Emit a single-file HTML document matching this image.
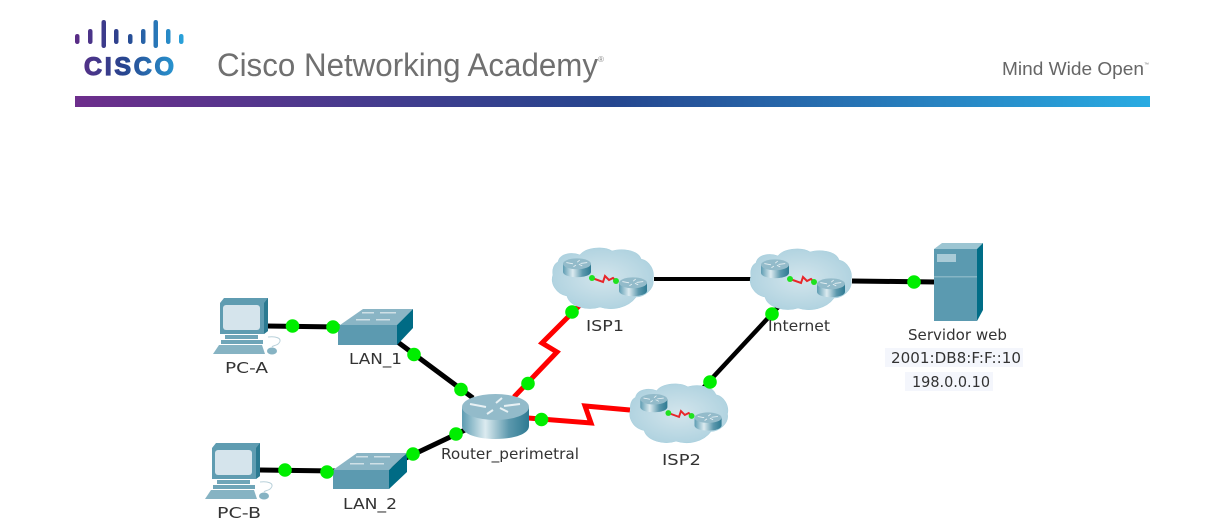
<!DOCTYPE html>
<html><head><meta charset="utf-8"><style>
html,body{margin:0;padding:0;background:#fff}
svg{display:block;filter:blur(.35px)}
.l{font-family:"DejaVu Sans","Liberation Sans",sans-serif;font-size:15px;fill:#333}
</style></head><body>
<svg width="1224" height="526" viewBox="0 0 1224 526" xmlns="http://www.w3.org/2000/svg">
<defs>
<linearGradient id="bar" x1="0" x2="1" y1="0" y2="0"><stop offset="0" stop-color="#6d2e8c"/><stop offset=".5" stop-color="#25468f"/><stop offset="1" stop-color="#29abe2"/></linearGradient>
<linearGradient id="logo" gradientUnits="userSpaceOnUse" x1="75" x2="185" y1="0" y2="0"><stop offset="0" stop-color="#5b2c86"/><stop offset=".45" stop-color="#27458f"/><stop offset="1" stop-color="#29a5dd"/></linearGradient>
<linearGradient id="rb" x1="0" x2="1" y1="0" y2="0"><stop offset="0" stop-color="#5d9cb2"/><stop offset=".35" stop-color="#dcebf0"/><stop offset=".7" stop-color="#5c98ad"/><stop offset="1" stop-color="#2e7a92"/></linearGradient>
<radialGradient id="cl" cx=".5" cy=".5" r=".6"><stop offset="0" stop-color="#d3e5ec"/><stop offset="1" stop-color="#abd0de"/></radialGradient>
<symbol id="router" viewBox="0 0 67 46" overflow="visible">
<path d="M0 13V32C0 40 15 45 33.500 45S67 40 67 32V13Z" fill="url(#rb)"/>
<ellipse cx="33.500" cy="13" rx="33.500" ry="13" fill="#93bbca"/>
<g stroke="#e8f1f4" stroke-width="2" fill="none"><path d="M8 10L24 13M58 10L42 12M25 20L31 16M40 4L34 9M46 18L38 14"/></g>
</symbol>
<symbol id="cloud" viewBox="0 0 102 63" overflow="visible">
<path d="M6 15C8 6 20 5 28 8C34 0 52-1 60 4C70 1 86 3 89 12C98 14 103 24 101 32C103 42 92 50 84 50C76 61 60 64 48 60C36 64 18 60 15 49C4 47-2 36 1 28C0 22 2 17 6 15Z" fill="url(#cl)" stroke="#a9d0de" stroke-width=".6"/>
<use href="#router" x="11" y="11" width="28" height="20"/>
<use href="#router" x="67" y="30" width="28" height="20"/>
<path d="M40 31L51 35L53 29L57 33L61 31L64 34" fill="none" stroke="#e8262a" stroke-width="2"/>
<circle cx="40" cy="31" r="3" fill="#1fe21f"/><circle cx="64" cy="34" r="3" fill="#1fe21f"/>
</symbol>
<symbol id="pc" viewBox="0 0 56 57" overflow="visible">
<path d="M7 5L11 0H55V33L51 36H7Z" fill="#5f9cb1"/><path d="M51 5L55 0V33L51 36Z" fill="#2b7a91"/>
<rect x="7" y="5" width="44" height="31" rx="2" fill="#5f9cb1"/>
<rect x="10" y="7" width="37" height="25" rx="3" fill="#d5e4ec"/>
<path d="M12 37H45V41H12Z" fill="#6fa5b8"/><path d="M8 42H50V46H8Z" fill="#6fa5b8"/>
<path d="M6 47H49L52 56H0Z" fill="#86b3c3"/>
<path d="M55 39C62 38 70 40 66 45C64 48 60 47 59 49" fill="none" stroke="#b9d1da" stroke-width="1"/>
<ellipse cx="59" cy="53" rx="5" ry="3.500" fill="#86b3c3"/>
</symbol>
</defs>

<!-- header -->
<g fill="url(#logo)">
<rect x="75" y="34" width="4.500" height="10" rx="2.200"/><rect x="88" y="29" width="4.500" height="15" rx="2.200"/>
<rect x="101.500" y="20" width="4.500" height="28" rx="2.200"/><rect x="114" y="29" width="4.500" height="15" rx="2.200"/>
<rect x="128" y="34" width="4.500" height="10" rx="2.200"/><rect x="141" y="29" width="4.500" height="15" rx="2.200"/>
<rect x="153.500" y="20" width="4.500" height="28" rx="2.200"/><rect x="166" y="29" width="4.500" height="15" rx="2.200"/>
<rect x="179" y="34" width="4.500" height="10" rx="2.200"/>
</g>
<text x="84" y="75" font-family="Liberation Sans" font-weight="700" font-size="25" fill="url(#logo)" stroke="url(#logo)" stroke-width="1.200" textLength="90" lengthAdjust="spacing">CISCO</text>
<text x="217" y="76" font-family="Liberation Sans" font-size="32" fill="#707070" textLength="381" lengthAdjust="spacingAndGlyphs">Cisco Networking Academy</text>
<text x="598" y="62" font-family="Liberation Sans" font-size="8" fill="#888">®</text>
<text x="1002" y="75" font-family="Liberation Sans" font-size="18.500" fill="#666" textLength="142" lengthAdjust="spacingAndGlyphs">Mind Wide Open</text>
<text x="1144" y="66" font-family="Liberation Sans" font-size="5" fill="#777">™</text>
<rect x="75" y="96" width="1075" height="11" fill="url(#bar)"/>

<!-- black links -->
<g fill="none" stroke="#000" stroke-width="5">
<path d="M266 326L340 327"/><path d="M395 340L473 398"/>
<path d="M260 470L335 471"/><path d="M389 466L465 430"/>
<path d="M654 279H752" stroke-width="4"/><path d="M852 281L936 282"/>
<path d="M781 304L703 388" stroke-width="4.500"/>
</g>
<!-- red links -->
<g fill="none" stroke="#f00" stroke-width="5">
<path d="M514 397L557 352L542 343L583 302"/>
<path d="M528 418L591 423L585 406L630 410"/>
</g>

<!-- devices -->
<use href="#pc" x="213" y="298" width="56" height="57"/>
<use href="#pc" x="205" y="443" width="56" height="57"/>

<path d="M340 325L363 309H413L397 325Z" fill="#8ab5c5"/><path d="M338 325H397V345H338Z" fill="#5c9ab0"/><path d="M397 325L413 309V328L397 345Z" fill="#006b85"/>
<g fill="#cfe0e6"><rect x="362" y="312" width="12" height="1.500"/><rect x="380" y="312" width="16" height="1.500"/><rect x="356" y="319" width="14" height="1.500"/><rect x="376" y="319" width="14" height="1.500"/></g>

<path d="M333 470L357 453H407L389 470Z" fill="#8ab5c5"/><path d="M333 470H389V489H333Z" fill="#5c9ab0"/><path d="M389 470L407 453V472L389 489Z" fill="#006b85"/>
<g fill="#cfe0e6"><rect x="356" y="456" width="12" height="1.500"/><rect x="374" y="456" width="16" height="1.500"/><rect x="350" y="463" width="14" height="1.500"/><rect x="370" y="463" width="14" height="1.500"/></g>

<use href="#router" x="462" y="394" width="67" height="46"/>
<use href="#cloud" x="552" y="247" width="102" height="63"/>
<use href="#cloud" x="750" y="248" width="102" height="63"/>
<use href="#cloud" x="628" y="383" width="102" height="61"/>

<!-- server -->
<path d="M934 249L942 243H983L977 249Z" fill="#9cc5d2"/><rect x="934" y="249" width="43" height="72" fill="#5b9ab0"/><path d="M977 249L983 243V310L977 321Z" fill="#006d87"/>
<rect x="937" y="254" width="19" height="8" fill="#a9cbd7"/><rect x="934" y="276" width="43" height="1.500" fill="#86b5c5"/>

<!-- link dots -->
<g fill="#00ee00">
<circle cx="292.500" cy="326" r="6.800"/><circle cx="333" cy="327" r="6.800"/>
<circle cx="414" cy="354.500" r="6.800"/><circle cx="461" cy="389.500" r="6.800"/>
<circle cx="285" cy="470" r="6.800"/><circle cx="327" cy="472" r="6.800"/>
<circle cx="413" cy="454" r="6.800"/><circle cx="456" cy="434" r="6.800"/>
<circle cx="528" cy="383.500" r="6.800"/><circle cx="572" cy="312" r="6.800"/>
<circle cx="541.500" cy="419.500" r="6.800"/>
<circle cx="772" cy="314" r="6.800"/><circle cx="710" cy="382" r="6.800"/>
<circle cx="914" cy="282" r="6.800"/>
</g>

<!-- labels -->
<rect x="885" y="348" width="138" height="19" fill="#f4f6fc"/>
<rect x="905" y="372" width="88" height="19" fill="#f4f6fc"/>
<text class="l" x="225" y="373" textLength="43" lengthAdjust="spacingAndGlyphs">PC-A</text>
<text class="l" x="349" y="364" textLength="53" lengthAdjust="spacingAndGlyphs">LAN_1</text>
<text class="l" x="343" y="509" textLength="54" lengthAdjust="spacingAndGlyphs">LAN_2</text>
<text class="l" x="217" y="518" textLength="44" lengthAdjust="spacingAndGlyphs">PC-B</text>
<text class="l" x="441" y="459" textLength="138" lengthAdjust="spacingAndGlyphs">Router_perimetral</text>
<text class="l" x="586" y="331" textLength="38" lengthAdjust="spacingAndGlyphs">ISP1</text>
<text class="l" x="768" y="331" textLength="62" lengthAdjust="spacingAndGlyphs">Internet</text>
<text class="l" x="662" y="465" textLength="39" lengthAdjust="spacingAndGlyphs">ISP2</text>
<text class="l" x="908" y="340" textLength="99" lengthAdjust="spacingAndGlyphs">Servidor web</text>
<text class="l" x="891" y="363" textLength="130" lengthAdjust="spacingAndGlyphs">2001:DB8:F:F::10</text>
<text class="l" x="912" y="387" textLength="78" lengthAdjust="spacingAndGlyphs">198.0.0.10</text>
</svg>
</body></html>
